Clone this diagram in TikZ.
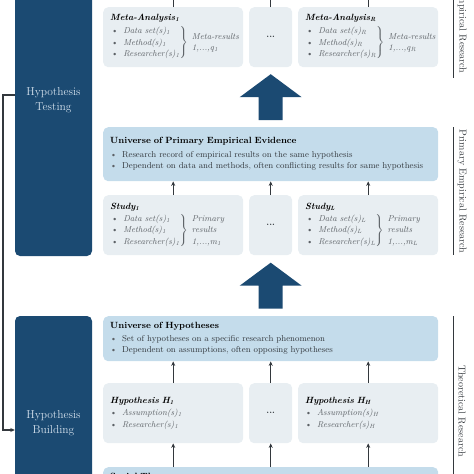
\documentclass[tikz,border=0pt]{standalone}
\usepackage{amsmath}
\usepackage{tikz}
\usetikzlibrary{arrows.meta,calc}
\definecolor{Navy}{HTML}{1B4A72}
\definecolor{SkyBlue}{HTML}{C4DCEB}
\definecolor{Mist}{HTML}{E8EEF2}
\definecolor{Pale}{HTML}{D3E0EC}
\definecolor{Ink}{HTML}{33383D}
\definecolor{Slate}{HTML}{5C6166}

\newcommand{\bul}{{\color{Slate}\textbullet}\hspace{5pt}}
\newcommand{\headfont}{\fontsize{9}{11}\selectfont\bfseries}
\newcommand{\braced}[2]{\mbox{$\left.\begin{tabular}{@{}l@{}}#1\end{tabular}\right\}$\hspace{4pt}\begin{tabular}{@{}l@{}}#2\end{tabular}}}

\begin{document}
\begin{tikzpicture}[x=1pt,y=-1pt,
  sidebox/.style={fill=Navy,rounded corners=5pt,text=Pale,minimum width=77pt,align=center,
    font=\fontsize{11.5}{15}\selectfont},
  univbox/.style={fill=SkyBlue,rounded corners=5pt,minimum width=335pt,text width=321pt,
    inner xsep=7pt,align=left,text=Ink,font=\fontsize{8.6}{11}\selectfont},
  anabox/.style={fill=Mist,rounded corners=5pt,minimum width=140pt,minimum height=60pt,
    text width=126pt,inner xsep=7pt,align=left,text=Slate,font=\fontsize{8.6}{11.5}\selectfont},
  dotbox/.style={fill=Mist,rounded corners=5pt,minimum width=43pt,minimum height=60pt,
    text=Ink,font=\fontsize{8.6}{11}\selectfont\bfseries},
  sidelabel/.style={rotate=-90,text=Ink,font=\fontsize{10}{12}\selectfont},
  rule/.style={line width=0.6pt,draw=Ink},
  link/.style={-{Stealth[length=4.5pt,width=4pt]},line width=1pt,draw=Ink},
  feedback/.style={-{Stealth[length=4.5pt,width=4pt]},line width=1.2pt,draw=Ink},
  bigup/.pic={\fill[Navy] (-12,23) -- (-12,0) -- (-31,0) -- (0,-23) -- (31,0) -- (12,0) -- (12,23) -- cycle;}
]
\useasboundingbox (0,0) rectangle (474,474);
\clip (0,0) rectangle (474,474);

% phases
\node[sidebox,minimum height=312pt] (testing) at (53.5,100) {Hypothesis\\Testing};
\node[sidebox,minimum height=214pt] (building) at (53.5,423) {Hypothesis\\Building};

% meta-analyses
\node[anabox,anchor=north west] (meta1) at (103,7) {{\headfont\color{black}\textit{Meta-Analysis\textsubscript{1}}}\\[2pt]
  \braced{\bul\textit{Data set(s)\textsubscript{1}}\\ \bul\textit{Method(s)\textsubscript{1}}\\ \bul\textit{Researcher(s)\textsubscript{1}}}
    {\textit{Meta-results}\\ \textit{1,...,q\textsubscript{1}}}};
\node[dotbox,anchor=north west] (metadots) at (249,7) {...};
\node[anabox,anchor=north west] (metaR) at (298,7) {{\headfont\color{black}\textit{Meta-Analysis\textsubscript{R}}}\\[2pt]
  \braced{\bul\textit{Data set(s)\textsubscript{R}}\\ \bul\textit{Method(s)\textsubscript{R}}\\ \bul\textit{Researcher(s)\textsubscript{R}}}
    {\textit{Meta-results}\\ \textit{1,...,q\textsubscript{R}}}};

% primary evidence
\node[univbox,anchor=north west,minimum height=54pt] (univpe) at (103,127) {{\headfont\color{black}Universe of Primary Empirical Evidence}\\[3pt]
  \bul Research record of empirical results on the same hypothesis\\
  \bul Dependent on data and methods, often conflicting results for same hypothesis};

% studies
\node[anabox,anchor=north west] (study1) at (103,195) {{\headfont\color{black}\textit{Study\textsubscript{1}}}\\[1pt]
  \braced{\bul\textit{Data set(s)\textsubscript{1}}\\ \bul\textit{Method(s)\textsubscript{1}}\\ \bul\textit{Researcher(s)\textsubscript{1}}}
    {\textit{Primary}\\ \textit{results}\\ \textit{1,...,m\textsubscript{1}}}};
\node[dotbox,anchor=north west] (studydots) at (249,195) {...};
\node[anabox,anchor=north west] (studyL) at (298,195) {{\headfont\color{black}\textit{Study\textsubscript{L}}}\\[1pt]
  \braced{\bul\textit{Data set(s)\textsubscript{L}}\\ \bul\textit{Method(s)\textsubscript{L}}\\ \bul\textit{Researcher(s)\textsubscript{L}}}
    {\textit{Primary}\\ \textit{results}\\ \textit{1,...,m\textsubscript{L}}}};

% hypotheses
\node[univbox,anchor=north west,minimum height=45pt] (univh) at (103,316) {{\headfont\color{black}Universe of Hypotheses}\\[2pt]
  \bul Set of hypotheses on a specific research phenomenon\\
  \bul Dependent on assumptions, often opposing hypotheses};
\node[anabox,anchor=north west] (hyp1) at (103,383) {{\headfont\color{black}\textit{Hypothesis H\textsubscript{1}}}\\[1pt]
  \bul\textit{Assumption(s)\textsubscript{1}}\\ \bul\textit{Researcher(s)\textsubscript{1}}};
\node[dotbox,anchor=north west] (hypdots) at (249,383) {...};
\node[anabox,anchor=north west] (hypH) at (298,383) {{\headfont\color{black}\textit{Hypothesis H\textsubscript{H}}}\\[1pt]
  \bul\textit{Assumption(s)\textsubscript{H}}\\ \bul\textit{Researcher(s)\textsubscript{H}}};
\node[univbox,anchor=north west,inner ysep=6pt] (theory) at (103,467) {{\headfont\color{black}Social Theory}};

% small arrows
\coordinate (topedge) at (0,-12);
\foreach \n in {meta1,metadots,metaR}
  \draw[link] (\n.north) -- (\n |- topedge);
\foreach \n in {study1,studydots,studyL}
  \draw[link] (\n.north) -- (\n |- univpe.south);
\foreach \n in {hyp1,hypdots,hypH}{
  \draw[link] (\n.north) -- (\n |- univh.south);
  \draw[link] (\n |- theory.north) -- (\n.south);
}

% block arrows
\pic at ($(metadots.south)!0.5!(univpe.north -| metadots)$) {bigup};
\pic at ($(studydots.south)!0.5!(univh.north -| studydots)$) {bigup};

% testing feeds back into building
\coordinate (bend) at (3,0);
\coordinate (tt) at ([yshift=5pt]testing.west);
\coordinate (bb) at ([yshift=-7pt]building.west);
\draw[feedback] (tt) -- (tt -| bend) -- (bb -| bend) -- (bb);

% research levels
\coordinate (rulex) at (453,0);
\draw[rule] (rulex |- topedge) -- (453,78);
\node[sidelabel,anchor=east] at (462,77) {Secondary Empirical Research};
\draw[rule] (univpe.north -| rulex) -- (study1.south -| rulex);
\node[sidelabel] at ($(univpe.north -| rulex)!0.5!(study1.south -| rulex)+(9,0)$) {Primary Empirical Research};
\draw[rule] (univh.north -| rulex) -- (453,520);
\node[sidelabel] at (462,411) {Theoretical Research};
\end{tikzpicture}
\end{document}
